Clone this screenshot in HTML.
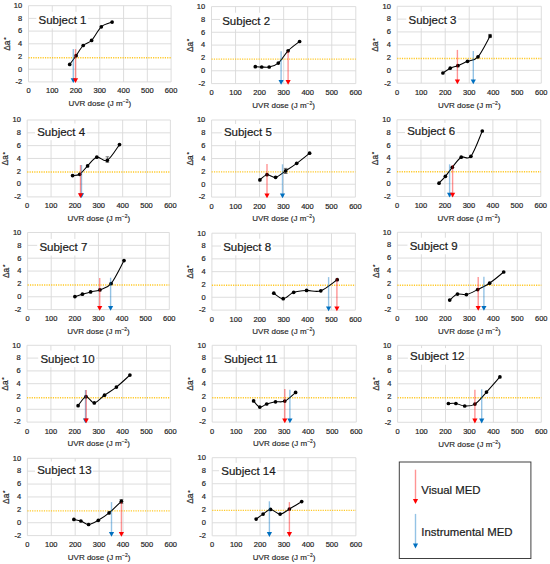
<!DOCTYPE html>
<html><head><meta charset="utf-8"><title>Subjects MED</title>
<style>
html,body{margin:0;padding:0;background:#fff;}
body{width:550px;height:564px;overflow:hidden;}
svg{display:block;font-family:"Liberation Sans",sans-serif;}
</style></head>
<body>
<svg width="550" height="564" viewBox="0 0 550 564">
<rect width="550" height="564" fill="#fff"/>
<g stroke="#d9d9d9" stroke-width="0.9"><line x1="28.5" y1="5.7" x2="28.5" y2="81.9"/><line x1="52.27" y1="5.7" x2="52.27" y2="81.9"/><line x1="76.03" y1="5.7" x2="76.03" y2="81.9"/><line x1="99.8" y1="5.7" x2="99.8" y2="81.9"/><line x1="123.57" y1="5.7" x2="123.57" y2="81.9"/><line x1="147.33" y1="5.7" x2="147.33" y2="81.9"/><line x1="171.1" y1="5.7" x2="171.1" y2="81.9"/><line x1="28.5" y1="5.7" x2="171.1" y2="5.7"/><line x1="28.5" y1="18.4" x2="171.1" y2="18.4"/><line x1="28.5" y1="31.1" x2="171.1" y2="31.1"/><line x1="28.5" y1="43.8" x2="171.1" y2="43.8"/><line x1="28.5" y1="69.2" x2="171.1" y2="69.2"/><line x1="28.5" y1="81.9" x2="171.1" y2="81.9"/></g>
<line x1="28.5" y1="57.8" x2="171.1" y2="57.8" stroke="#ffc000" stroke-width="1.4" stroke-opacity="0.85" stroke-dasharray="1.2 1.15"/>
<g font-size="7.5" fill="#262626" stroke="#262626" stroke-width="0.2"><text x="22.2" y="8" text-anchor="end">10</text><text x="22.2" y="20.7" text-anchor="end">8</text><text x="22.2" y="33.4" text-anchor="end">6</text><text x="22.2" y="46.1" text-anchor="end">4</text><text x="22.2" y="58.8" text-anchor="end">2</text><text x="22.2" y="71.5" text-anchor="end">0</text><text x="22.2" y="84.2" text-anchor="end">-2</text><text x="28.5" y="93.4" text-anchor="middle">0</text><text x="52.27" y="93.4" text-anchor="middle">100</text><text x="76.03" y="93.4" text-anchor="middle">200</text><text x="99.8" y="93.4" text-anchor="middle">300</text><text x="123.57" y="93.4" text-anchor="middle">400</text><text x="147.33" y="93.4" text-anchor="middle">500</text><text x="171.1" y="93.4" text-anchor="middle">600</text></g>
<text x="99.8" y="106.2" text-anchor="middle" font-size="8.0" fill="#262626" stroke="#262626" stroke-width="0.15">UVR dose (J m<tspan font-size="5" dy="-3">&#8722;2</tspan><tspan dy="3">)</tspan></text>
<text transform="translate(9.6,44.1) rotate(-90)" text-anchor="middle" font-size="8.4" fill="#262626" stroke="#262626" stroke-width="0.22">&#916;a<tspan font-size="6.2" dx="0.7" dy="-1.8">*</tspan></text>
<rect x="36.3" y="11.8" width="51.6" height="16.6" fill="#fff"/>
<text x="38.5" y="23.8" font-size="11.5" fill="#1a1a1a" stroke="#1a1a1a" stroke-width="0.2">Subject 1</text>
<path d="M69.7,64.4 C70.77,62.95 73.85,58.85 76.1,55.7 C78.35,52.55 80.62,48.05 83.2,45.5 C85.78,42.95 88.58,43.52 91.6,40.4 C94.62,37.28 97.88,29.85 101.3,26.8 C104.72,23.75 110.3,22.88 112.1,22.1" fill="none" stroke="#000" stroke-width="1.05"/>
<g fill="#000"><circle cx="69.7" cy="64.4" r="1.85"/><circle cx="76.1" cy="55.7" r="1.85"/><circle cx="83.2" cy="45.5" r="1.85"/><circle cx="91.6" cy="40.4" r="1.85"/><circle cx="101.3" cy="26.8" r="1.85"/><circle cx="112.1" cy="22.1" r="1.85"/></g>
<line x1="73.3" y1="49.1" x2="73.3" y2="78.7" stroke="#0070c0" stroke-width="1.4" stroke-opacity="0.42"/><path d="M70.7,78.2 L75.9,78.2 L73.3,83 Z" fill="#0070c0"/>
<line x1="75.5" y1="49.1" x2="75.5" y2="78.7" stroke="#ff0000" stroke-width="1.4" stroke-opacity="0.42"/><path d="M72.9,78.2 L78.1,78.2 L75.5,83 Z" fill="#ff0000"/>
<g stroke="#d9d9d9" stroke-width="0.9"><line x1="211.5" y1="6.6" x2="211.5" y2="83.6"/><line x1="235.55" y1="6.6" x2="235.55" y2="83.6"/><line x1="259.6" y1="6.6" x2="259.6" y2="83.6"/><line x1="283.65" y1="6.6" x2="283.65" y2="83.6"/><line x1="307.7" y1="6.6" x2="307.7" y2="83.6"/><line x1="331.75" y1="6.6" x2="331.75" y2="83.6"/><line x1="355.8" y1="6.6" x2="355.8" y2="83.6"/><line x1="211.5" y1="6.6" x2="355.8" y2="6.6"/><line x1="211.5" y1="19.43" x2="355.8" y2="19.43"/><line x1="211.5" y1="32.27" x2="355.8" y2="32.27"/><line x1="211.5" y1="45.1" x2="355.8" y2="45.1"/><line x1="211.5" y1="70.77" x2="355.8" y2="70.77"/><line x1="211.5" y1="83.6" x2="355.8" y2="83.6"/></g>
<line x1="211.5" y1="59.1" x2="355.8" y2="59.1" stroke="#ffc000" stroke-width="1.4" stroke-opacity="0.85" stroke-dasharray="1.2 1.15"/>
<g font-size="7.5" fill="#262626" stroke="#262626" stroke-width="0.2"><text x="205.2" y="8.9" text-anchor="end">10</text><text x="205.2" y="21.73" text-anchor="end">8</text><text x="205.2" y="34.57" text-anchor="end">6</text><text x="205.2" y="47.4" text-anchor="end">4</text><text x="205.2" y="60.23" text-anchor="end">2</text><text x="205.2" y="73.07" text-anchor="end">0</text><text x="205.2" y="85.9" text-anchor="end">-2</text><text x="211.5" y="95.1" text-anchor="middle">0</text><text x="235.55" y="95.1" text-anchor="middle">100</text><text x="259.6" y="95.1" text-anchor="middle">200</text><text x="283.65" y="95.1" text-anchor="middle">300</text><text x="307.7" y="95.1" text-anchor="middle">400</text><text x="331.75" y="95.1" text-anchor="middle">500</text><text x="355.8" y="95.1" text-anchor="middle">600</text></g>
<text x="283.65" y="107.9" text-anchor="middle" font-size="8.0" fill="#262626" stroke="#262626" stroke-width="0.15">UVR dose (J m<tspan font-size="5" dy="-3">&#8722;2</tspan><tspan dy="3">)</tspan></text>
<text transform="translate(192.6,45.4) rotate(-90)" text-anchor="middle" font-size="8.4" fill="#262626" stroke="#262626" stroke-width="0.22">&#916;a<tspan font-size="6.2" dx="0.7" dy="-1.8">*</tspan></text>
<rect x="220" y="12.7" width="51.6" height="16.6" fill="#fff"/>
<text x="222.2" y="24.7" font-size="11.5" fill="#1a1a1a" stroke="#1a1a1a" stroke-width="0.2">Subject 2</text>
<path d="M255.3,66.7 C256.37,66.75 259.38,66.95 261.7,67 C264.02,67.05 266.43,67.65 269.2,67 C271.97,66.35 275.15,65.8 278.3,63.1 C281.45,60.4 284.55,54.4 288.1,50.8 C291.65,47.2 297.68,43.05 299.6,41.5" fill="none" stroke="#000" stroke-width="1.05"/>
<g fill="#000"><circle cx="255.3" cy="66.7" r="1.85"/><circle cx="261.7" cy="67" r="1.85"/><circle cx="269.2" cy="67" r="1.85"/><circle cx="278.3" cy="63.1" r="1.85"/><circle cx="288.1" cy="50.8" r="1.85"/><circle cx="299.6" cy="41.5" r="1.85"/></g>
<line x1="281.1" y1="51.2" x2="281.1" y2="80.4" stroke="#0070c0" stroke-width="1.4" stroke-opacity="0.42"/><path d="M278.5,79.9 L283.7,79.9 L281.1,84.7 Z" fill="#0070c0"/>
<line x1="288.1" y1="51.2" x2="288.1" y2="80.4" stroke="#ff0000" stroke-width="1.4" stroke-opacity="0.42"/><path d="M285.5,79.9 L290.7,79.9 L288.1,84.7 Z" fill="#ff0000"/>
<g stroke="#d9d9d9" stroke-width="0.9"><line x1="397.2" y1="6.3" x2="397.2" y2="83.2"/><line x1="421.22" y1="6.3" x2="421.22" y2="83.2"/><line x1="445.23" y1="6.3" x2="445.23" y2="83.2"/><line x1="469.25" y1="6.3" x2="469.25" y2="83.2"/><line x1="493.27" y1="6.3" x2="493.27" y2="83.2"/><line x1="517.28" y1="6.3" x2="517.28" y2="83.2"/><line x1="541.3" y1="6.3" x2="541.3" y2="83.2"/><line x1="397.2" y1="6.3" x2="541.3" y2="6.3"/><line x1="397.2" y1="19.12" x2="541.3" y2="19.12"/><line x1="397.2" y1="31.93" x2="541.3" y2="31.93"/><line x1="397.2" y1="44.75" x2="541.3" y2="44.75"/><line x1="397.2" y1="70.38" x2="541.3" y2="70.38"/><line x1="397.2" y1="83.2" x2="541.3" y2="83.2"/></g>
<line x1="397.2" y1="58.5" x2="541.3" y2="58.5" stroke="#ffc000" stroke-width="1.4" stroke-opacity="0.85" stroke-dasharray="1.2 1.15"/>
<g font-size="7.5" fill="#262626" stroke="#262626" stroke-width="0.2"><text x="390.9" y="8.6" text-anchor="end">10</text><text x="390.9" y="21.42" text-anchor="end">8</text><text x="390.9" y="34.23" text-anchor="end">6</text><text x="390.9" y="47.05" text-anchor="end">4</text><text x="390.9" y="59.87" text-anchor="end">2</text><text x="390.9" y="72.68" text-anchor="end">0</text><text x="390.9" y="85.5" text-anchor="end">-2</text><text x="397.2" y="94.7" text-anchor="middle">0</text><text x="421.22" y="94.7" text-anchor="middle">100</text><text x="445.23" y="94.7" text-anchor="middle">200</text><text x="469.25" y="94.7" text-anchor="middle">300</text><text x="493.27" y="94.7" text-anchor="middle">400</text><text x="517.28" y="94.7" text-anchor="middle">500</text><text x="541.3" y="94.7" text-anchor="middle">600</text></g>
<text x="469.25" y="107.5" text-anchor="middle" font-size="8.0" fill="#262626" stroke="#262626" stroke-width="0.15">UVR dose (J m<tspan font-size="5" dy="-3">&#8722;2</tspan><tspan dy="3">)</tspan></text>
<text transform="translate(378.3,45.05) rotate(-90)" text-anchor="middle" font-size="8.4" fill="#262626" stroke="#262626" stroke-width="0.22">&#916;a<tspan font-size="6.2" dx="0.7" dy="-1.8">*</tspan></text>
<rect x="406.3" y="11.6" width="51.6" height="16.6" fill="#fff"/>
<text x="408.5" y="23.6" font-size="11.5" fill="#1a1a1a" stroke="#1a1a1a" stroke-width="0.2">Subject 3</text>
<g stroke="#505050" stroke-width="0.8"><line x1="490" y1="34.4" x2="490" y2="37.6"/><line x1="488.2" y1="34.4" x2="491.8" y2="34.4"/><line x1="488.2" y1="37.6" x2="491.8" y2="37.6"/></g>
<path d="M442.9,73 C444.12,72.2 447.7,69.42 450.2,68.2 C452.7,66.98 455.02,66.85 457.9,65.7 C460.78,64.55 464.15,62.78 467.5,61.3 C470.85,59.82 474.23,61.02 478,56.8 C481.77,52.58 488.08,39.47 490.1,36" fill="none" stroke="#000" stroke-width="1.05"/>
<g fill="#000"><circle cx="442.9" cy="73" r="1.85"/><circle cx="450.2" cy="68.2" r="1.85"/><circle cx="457.9" cy="65.7" r="1.85"/><circle cx="467.5" cy="61.3" r="1.85"/><circle cx="478" cy="56.8" r="1.85"/><circle cx="490.1" cy="36" r="1.85"/></g>
<line x1="473.3" y1="51" x2="473.3" y2="80" stroke="#0070c0" stroke-width="1.4" stroke-opacity="0.42"/><path d="M470.7,79.5 L475.9,79.5 L473.3,84.3 Z" fill="#0070c0"/>
<line x1="457.4" y1="49.9" x2="457.4" y2="80" stroke="#ff0000" stroke-width="1.4" stroke-opacity="0.42"/><path d="M454.8,79.5 L460,79.5 L457.4,84.3 Z" fill="#ff0000"/>
<g stroke="#d9d9d9" stroke-width="0.9"><line x1="27.2" y1="120" x2="27.2" y2="196.9"/><line x1="51.07" y1="120" x2="51.07" y2="196.9"/><line x1="74.93" y1="120" x2="74.93" y2="196.9"/><line x1="98.8" y1="120" x2="98.8" y2="196.9"/><line x1="122.67" y1="120" x2="122.67" y2="196.9"/><line x1="146.53" y1="120" x2="146.53" y2="196.9"/><line x1="170.4" y1="120" x2="170.4" y2="196.9"/><line x1="27.2" y1="120" x2="170.4" y2="120"/><line x1="27.2" y1="132.82" x2="170.4" y2="132.82"/><line x1="27.2" y1="145.63" x2="170.4" y2="145.63"/><line x1="27.2" y1="158.45" x2="170.4" y2="158.45"/><line x1="27.2" y1="184.08" x2="170.4" y2="184.08"/><line x1="27.2" y1="196.9" x2="170.4" y2="196.9"/></g>
<line x1="27.2" y1="172" x2="170.4" y2="172" stroke="#ffc000" stroke-width="1.4" stroke-opacity="0.85" stroke-dasharray="1.2 1.15"/>
<g font-size="7.5" fill="#262626" stroke="#262626" stroke-width="0.2"><text x="20.9" y="122.3" text-anchor="end">10</text><text x="20.9" y="135.12" text-anchor="end">8</text><text x="20.9" y="147.93" text-anchor="end">6</text><text x="20.9" y="160.75" text-anchor="end">4</text><text x="20.9" y="173.57" text-anchor="end">2</text><text x="20.9" y="186.38" text-anchor="end">0</text><text x="20.9" y="199.2" text-anchor="end">-2</text><text x="27.2" y="208.4" text-anchor="middle">0</text><text x="51.07" y="208.4" text-anchor="middle">100</text><text x="74.93" y="208.4" text-anchor="middle">200</text><text x="98.8" y="208.4" text-anchor="middle">300</text><text x="122.67" y="208.4" text-anchor="middle">400</text><text x="146.53" y="208.4" text-anchor="middle">500</text><text x="170.4" y="208.4" text-anchor="middle">600</text></g>
<text x="98.8" y="221.2" text-anchor="middle" font-size="8.0" fill="#262626" stroke="#262626" stroke-width="0.15">UVR dose (J m<tspan font-size="5" dy="-3">&#8722;2</tspan><tspan dy="3">)</tspan></text>
<text transform="translate(8.3,158.75) rotate(-90)" text-anchor="middle" font-size="8.4" fill="#262626" stroke="#262626" stroke-width="0.22">&#916;a<tspan font-size="6.2" dx="0.7" dy="-1.8">*</tspan></text>
<rect x="35" y="123.6" width="51.6" height="16.6" fill="#fff"/>
<text x="37.2" y="135.6" font-size="11.5" fill="#1a1a1a" stroke="#1a1a1a" stroke-width="0.2">Subject 4</text>
<g stroke="#505050" stroke-width="0.8"><line x1="107.4" y1="156.8" x2="107.4" y2="162.3"/><line x1="105.6" y1="156.8" x2="109.2" y2="156.8"/><line x1="105.6" y1="162.3" x2="109.2" y2="162.3"/></g>
<path d="M72.6,175.6 C73.78,175.38 77.2,175.92 79.7,174.3 C82.2,172.68 84.75,168.75 87.6,165.9 C90.45,163.05 93.52,158.13 96.8,157.2 C100.08,156.27 103.52,162.4 107.3,160.3 C111.08,158.2 117.47,147.22 119.5,144.6" fill="none" stroke="#000" stroke-width="1.05"/>
<g fill="#000"><circle cx="72.6" cy="175.6" r="1.85"/><circle cx="79.7" cy="174.3" r="1.85"/><circle cx="87.6" cy="165.9" r="1.85"/><circle cx="96.8" cy="157.2" r="1.85"/><circle cx="107.3" cy="160.3" r="1.85"/><circle cx="119.5" cy="144.6" r="1.85"/></g>
<line x1="81.5" y1="165" x2="81.5" y2="193.7" stroke="#0070c0" stroke-width="1.4" stroke-opacity="0.42"/><path d="M78.9,193.2 L84.1,193.2 L81.5,198 Z" fill="#0070c0"/>
<line x1="80.5" y1="165" x2="80.5" y2="193.7" stroke="#ff0000" stroke-width="1.4" stroke-opacity="0.42"/><path d="M77.9,193.2 L83.1,193.2 L80.5,198 Z" fill="#ff0000"/>
<g stroke="#d9d9d9" stroke-width="0.9"><line x1="211.6" y1="120" x2="211.6" y2="197.1"/><line x1="235.57" y1="120" x2="235.57" y2="197.1"/><line x1="259.53" y1="120" x2="259.53" y2="197.1"/><line x1="283.5" y1="120" x2="283.5" y2="197.1"/><line x1="307.47" y1="120" x2="307.47" y2="197.1"/><line x1="331.43" y1="120" x2="331.43" y2="197.1"/><line x1="355.4" y1="120" x2="355.4" y2="197.1"/><line x1="211.6" y1="120" x2="355.4" y2="120"/><line x1="211.6" y1="132.85" x2="355.4" y2="132.85"/><line x1="211.6" y1="145.7" x2="355.4" y2="145.7"/><line x1="211.6" y1="158.55" x2="355.4" y2="158.55"/><line x1="211.6" y1="184.25" x2="355.4" y2="184.25"/><line x1="211.6" y1="197.1" x2="355.4" y2="197.1"/></g>
<line x1="211.6" y1="171.9" x2="355.4" y2="171.9" stroke="#ffc000" stroke-width="1.4" stroke-opacity="0.85" stroke-dasharray="1.2 1.15"/>
<g font-size="7.5" fill="#262626" stroke="#262626" stroke-width="0.2"><text x="205.3" y="122.3" text-anchor="end">10</text><text x="205.3" y="135.15" text-anchor="end">8</text><text x="205.3" y="148" text-anchor="end">6</text><text x="205.3" y="160.85" text-anchor="end">4</text><text x="205.3" y="173.7" text-anchor="end">2</text><text x="205.3" y="186.55" text-anchor="end">0</text><text x="205.3" y="199.4" text-anchor="end">-2</text><text x="211.6" y="208.6" text-anchor="middle">0</text><text x="235.57" y="208.6" text-anchor="middle">100</text><text x="259.53" y="208.6" text-anchor="middle">200</text><text x="283.5" y="208.6" text-anchor="middle">300</text><text x="307.47" y="208.6" text-anchor="middle">400</text><text x="331.43" y="208.6" text-anchor="middle">500</text><text x="355.4" y="208.6" text-anchor="middle">600</text></g>
<text x="283.5" y="221.4" text-anchor="middle" font-size="8.0" fill="#262626" stroke="#262626" stroke-width="0.15">UVR dose (J m<tspan font-size="5" dy="-3">&#8722;2</tspan><tspan dy="3">)</tspan></text>
<text transform="translate(192.7,158.85) rotate(-90)" text-anchor="middle" font-size="8.4" fill="#262626" stroke="#262626" stroke-width="0.22">&#916;a<tspan font-size="6.2" dx="0.7" dy="-1.8">*</tspan></text>
<rect x="221.7" y="124" width="51.6" height="16.6" fill="#fff"/>
<text x="223.9" y="136" font-size="11.5" fill="#1a1a1a" stroke="#1a1a1a" stroke-width="0.2">Subject 5</text>
<g stroke="#505050" stroke-width="0.8"><line x1="285.7" y1="168.4" x2="285.7" y2="173.5"/><line x1="283.9" y1="168.4" x2="287.5" y2="168.4"/><line x1="283.9" y1="173.5" x2="287.5" y2="173.5"/></g>
<path d="M259.9,179.9 C261.08,179.03 264.38,175.13 267,174.7 C269.62,174.27 272.5,177.93 275.6,177.3 C278.7,176.67 282.08,173.23 285.6,170.9 C289.12,168.57 292.7,166.25 296.7,163.3 C300.7,160.35 307.45,154.88 309.6,153.2" fill="none" stroke="#000" stroke-width="1.05"/>
<g fill="#000"><circle cx="259.9" cy="179.9" r="1.85"/><circle cx="267" cy="174.7" r="1.85"/><circle cx="275.6" cy="177.3" r="1.85"/><circle cx="285.6" cy="170.9" r="1.85"/><circle cx="296.7" cy="163.3" r="1.85"/><circle cx="309.6" cy="153.2" r="1.85"/></g>
<line x1="282.5" y1="164.3" x2="282.5" y2="193.9" stroke="#0070c0" stroke-width="1.4" stroke-opacity="0.42"/><path d="M279.9,193.4 L285.1,193.4 L282.5,198.2 Z" fill="#0070c0"/>
<line x1="267" y1="163.9" x2="267" y2="193.9" stroke="#ff0000" stroke-width="1.4" stroke-opacity="0.42"/><path d="M264.4,193.4 L269.6,193.4 L267,198.2 Z" fill="#ff0000"/>
<g stroke="#d9d9d9" stroke-width="0.9"><line x1="397" y1="119.8" x2="397" y2="196.5"/><line x1="420.97" y1="119.8" x2="420.97" y2="196.5"/><line x1="444.93" y1="119.8" x2="444.93" y2="196.5"/><line x1="468.9" y1="119.8" x2="468.9" y2="196.5"/><line x1="492.87" y1="119.8" x2="492.87" y2="196.5"/><line x1="516.83" y1="119.8" x2="516.83" y2="196.5"/><line x1="540.8" y1="119.8" x2="540.8" y2="196.5"/><line x1="397" y1="119.8" x2="540.8" y2="119.8"/><line x1="397" y1="132.58" x2="540.8" y2="132.58"/><line x1="397" y1="145.37" x2="540.8" y2="145.37"/><line x1="397" y1="158.15" x2="540.8" y2="158.15"/><line x1="397" y1="183.72" x2="540.8" y2="183.72"/><line x1="397" y1="196.5" x2="540.8" y2="196.5"/></g>
<line x1="397" y1="171.7" x2="540.8" y2="171.7" stroke="#ffc000" stroke-width="1.4" stroke-opacity="0.85" stroke-dasharray="1.2 1.15"/>
<g font-size="7.5" fill="#262626" stroke="#262626" stroke-width="0.2"><text x="390.7" y="122.1" text-anchor="end">10</text><text x="390.7" y="134.88" text-anchor="end">8</text><text x="390.7" y="147.67" text-anchor="end">6</text><text x="390.7" y="160.45" text-anchor="end">4</text><text x="390.7" y="173.23" text-anchor="end">2</text><text x="390.7" y="186.02" text-anchor="end">0</text><text x="390.7" y="198.8" text-anchor="end">-2</text><text x="397" y="208" text-anchor="middle">0</text><text x="420.97" y="208" text-anchor="middle">100</text><text x="444.93" y="208" text-anchor="middle">200</text><text x="468.9" y="208" text-anchor="middle">300</text><text x="492.87" y="208" text-anchor="middle">400</text><text x="516.83" y="208" text-anchor="middle">500</text><text x="540.8" y="208" text-anchor="middle">600</text></g>
<text x="468.9" y="220.8" text-anchor="middle" font-size="8.0" fill="#262626" stroke="#262626" stroke-width="0.15">UVR dose (J m<tspan font-size="5" dy="-3">&#8722;2</tspan><tspan dy="3">)</tspan></text>
<text transform="translate(378.1,158.45) rotate(-90)" text-anchor="middle" font-size="8.4" fill="#262626" stroke="#262626" stroke-width="0.22">&#916;a<tspan font-size="6.2" dx="0.7" dy="-1.8">*</tspan></text>
<rect x="405" y="123" width="51.6" height="16.6" fill="#fff"/>
<text x="407.2" y="135" font-size="11.5" fill="#1a1a1a" stroke="#1a1a1a" stroke-width="0.2">Subject 6</text>
<path d="M439,183.2 C440.07,182.05 443.18,178.95 445.4,176.3 C447.62,173.65 449.67,170.48 452.3,167.3 C454.93,164.12 458.1,159.03 461.2,157.2 C464.3,155.37 467.38,160.67 470.9,156.3 C474.42,151.93 480.4,135.22 482.3,131" fill="none" stroke="#000" stroke-width="1.05"/>
<g fill="#000"><circle cx="439" cy="183.2" r="1.85"/><circle cx="445.4" cy="176.3" r="1.85"/><circle cx="452.3" cy="167.3" r="1.85"/><circle cx="461.2" cy="157.2" r="1.85"/><circle cx="470.9" cy="156.3" r="1.85"/><circle cx="482.3" cy="131" r="1.85"/></g>
<line x1="449.6" y1="164.3" x2="449.6" y2="193.3" stroke="#0070c0" stroke-width="1.4" stroke-opacity="0.42"/><path d="M447,192.8 L452.2,192.8 L449.6,197.6 Z" fill="#0070c0"/>
<line x1="452.6" y1="165" x2="452.6" y2="193.3" stroke="#ff0000" stroke-width="1.4" stroke-opacity="0.42"/><path d="M450,192.8 L455.2,192.8 L452.6,197.6 Z" fill="#ff0000"/>
<g stroke="#d9d9d9" stroke-width="0.9"><line x1="27.6" y1="232.5" x2="27.6" y2="309.6"/><line x1="51.22" y1="232.5" x2="51.22" y2="309.6"/><line x1="74.83" y1="232.5" x2="74.83" y2="309.6"/><line x1="98.45" y1="232.5" x2="98.45" y2="309.6"/><line x1="122.07" y1="232.5" x2="122.07" y2="309.6"/><line x1="145.68" y1="232.5" x2="145.68" y2="309.6"/><line x1="169.3" y1="232.5" x2="169.3" y2="309.6"/><line x1="27.6" y1="232.5" x2="169.3" y2="232.5"/><line x1="27.6" y1="245.35" x2="169.3" y2="245.35"/><line x1="27.6" y1="258.2" x2="169.3" y2="258.2"/><line x1="27.6" y1="271.05" x2="169.3" y2="271.05"/><line x1="27.6" y1="296.75" x2="169.3" y2="296.75"/><line x1="27.6" y1="309.6" x2="169.3" y2="309.6"/></g>
<line x1="27.6" y1="285" x2="169.3" y2="285" stroke="#ffc000" stroke-width="1.4" stroke-opacity="0.85" stroke-dasharray="1.2 1.15"/>
<g font-size="7.5" fill="#262626" stroke="#262626" stroke-width="0.2"><text x="21.3" y="234.8" text-anchor="end">10</text><text x="21.3" y="247.65" text-anchor="end">8</text><text x="21.3" y="260.5" text-anchor="end">6</text><text x="21.3" y="273.35" text-anchor="end">4</text><text x="21.3" y="286.2" text-anchor="end">2</text><text x="21.3" y="299.05" text-anchor="end">0</text><text x="21.3" y="311.9" text-anchor="end">-2</text><text x="27.6" y="321.1" text-anchor="middle">0</text><text x="51.22" y="321.1" text-anchor="middle">100</text><text x="74.83" y="321.1" text-anchor="middle">200</text><text x="98.45" y="321.1" text-anchor="middle">300</text><text x="122.07" y="321.1" text-anchor="middle">400</text><text x="145.68" y="321.1" text-anchor="middle">500</text><text x="169.3" y="321.1" text-anchor="middle">600</text></g>
<text x="98.45" y="333.9" text-anchor="middle" font-size="8.0" fill="#262626" stroke="#262626" stroke-width="0.15">UVR dose (J m<tspan font-size="5" dy="-3">&#8722;2</tspan><tspan dy="3">)</tspan></text>
<text transform="translate(8.7,271.35) rotate(-90)" text-anchor="middle" font-size="8.4" fill="#262626" stroke="#262626" stroke-width="0.22">&#916;a<tspan font-size="6.2" dx="0.7" dy="-1.8">*</tspan></text>
<rect x="37.2" y="238.9" width="51.6" height="16.6" fill="#fff"/>
<text x="39.4" y="250.9" font-size="11.5" fill="#1a1a1a" stroke="#1a1a1a" stroke-width="0.2">Subject 7</text>
<path d="M74.9,296.6 C76.15,296.2 79.78,294.98 82.4,294.2 C85.02,293.42 87.68,292.62 90.6,291.9 C93.52,291.18 96.48,291.28 99.9,289.9 C103.32,288.52 107.08,288.48 111.1,283.6 C115.12,278.72 121.85,264.43 124,260.6" fill="none" stroke="#000" stroke-width="1.05"/>
<g fill="#000"><circle cx="74.9" cy="296.6" r="1.85"/><circle cx="82.4" cy="294.2" r="1.85"/><circle cx="90.6" cy="291.9" r="1.85"/><circle cx="99.9" cy="289.9" r="1.85"/><circle cx="111.1" cy="283.6" r="1.85"/><circle cx="124" cy="260.6" r="1.85"/></g>
<line x1="110.6" y1="277.7" x2="110.6" y2="306.4" stroke="#0070c0" stroke-width="1.4" stroke-opacity="0.42"/><path d="M108,305.9 L113.2,305.9 L110.6,310.7 Z" fill="#0070c0"/>
<line x1="99.7" y1="278" x2="99.7" y2="306.4" stroke="#ff0000" stroke-width="1.4" stroke-opacity="0.42"/><path d="M97.1,305.9 L102.3,305.9 L99.7,310.7 Z" fill="#ff0000"/>
<g stroke="#d9d9d9" stroke-width="0.9"><line x1="211.9" y1="233.2" x2="211.9" y2="310.1"/><line x1="235.82" y1="233.2" x2="235.82" y2="310.1"/><line x1="259.73" y1="233.2" x2="259.73" y2="310.1"/><line x1="283.65" y1="233.2" x2="283.65" y2="310.1"/><line x1="307.57" y1="233.2" x2="307.57" y2="310.1"/><line x1="331.48" y1="233.2" x2="331.48" y2="310.1"/><line x1="355.4" y1="233.2" x2="355.4" y2="310.1"/><line x1="211.9" y1="233.2" x2="355.4" y2="233.2"/><line x1="211.9" y1="246.02" x2="355.4" y2="246.02"/><line x1="211.9" y1="258.83" x2="355.4" y2="258.83"/><line x1="211.9" y1="271.65" x2="355.4" y2="271.65"/><line x1="211.9" y1="297.28" x2="355.4" y2="297.28"/><line x1="211.9" y1="310.1" x2="355.4" y2="310.1"/></g>
<line x1="211.9" y1="285.2" x2="355.4" y2="285.2" stroke="#ffc000" stroke-width="1.4" stroke-opacity="0.85" stroke-dasharray="1.2 1.15"/>
<g font-size="7.5" fill="#262626" stroke="#262626" stroke-width="0.2"><text x="205.6" y="235.5" text-anchor="end">10</text><text x="205.6" y="248.32" text-anchor="end">8</text><text x="205.6" y="261.13" text-anchor="end">6</text><text x="205.6" y="273.95" text-anchor="end">4</text><text x="205.6" y="286.77" text-anchor="end">2</text><text x="205.6" y="299.58" text-anchor="end">0</text><text x="205.6" y="312.4" text-anchor="end">-2</text><text x="211.9" y="321.6" text-anchor="middle">0</text><text x="235.82" y="321.6" text-anchor="middle">100</text><text x="259.73" y="321.6" text-anchor="middle">200</text><text x="283.65" y="321.6" text-anchor="middle">300</text><text x="307.57" y="321.6" text-anchor="middle">400</text><text x="331.48" y="321.6" text-anchor="middle">500</text><text x="355.4" y="321.6" text-anchor="middle">600</text></g>
<text x="283.65" y="334.4" text-anchor="middle" font-size="8.0" fill="#262626" stroke="#262626" stroke-width="0.15">UVR dose (J m<tspan font-size="5" dy="-3">&#8722;2</tspan><tspan dy="3">)</tspan></text>
<text transform="translate(193,271.95) rotate(-90)" text-anchor="middle" font-size="8.4" fill="#262626" stroke="#262626" stroke-width="0.22">&#916;a<tspan font-size="6.2" dx="0.7" dy="-1.8">*</tspan></text>
<rect x="221" y="238.7" width="51.6" height="16.6" fill="#fff"/>
<text x="223.2" y="250.7" font-size="11.5" fill="#1a1a1a" stroke="#1a1a1a" stroke-width="0.2">Subject 8</text>
<path d="M273.8,293.2 C275.37,294.12 279.88,298.85 283.2,298.7 C286.52,298.55 289.8,293.68 293.7,292.3 C297.6,290.92 302.08,290.65 306.6,290.4 C311.12,290.15 315.7,292.58 320.8,290.8 C325.9,289.02 334.47,281.55 337.2,279.7" fill="none" stroke="#000" stroke-width="1.05"/>
<g fill="#000"><circle cx="273.8" cy="293.2" r="1.85"/><circle cx="283.2" cy="298.7" r="1.85"/><circle cx="293.7" cy="292.3" r="1.85"/><circle cx="306.6" cy="290.4" r="1.85"/><circle cx="320.8" cy="290.8" r="1.85"/><circle cx="337.2" cy="279.7" r="1.85"/></g>
<line x1="328.6" y1="277.1" x2="328.6" y2="306.9" stroke="#0070c0" stroke-width="1.4" stroke-opacity="0.42"/><path d="M326,306.4 L331.2,306.4 L328.6,311.2 Z" fill="#0070c0"/>
<line x1="336.9" y1="278" x2="336.9" y2="306.9" stroke="#ff0000" stroke-width="1.4" stroke-opacity="0.42"/><path d="M334.3,306.4 L339.5,306.4 L336.9,311.2 Z" fill="#ff0000"/>
<g stroke="#d9d9d9" stroke-width="0.9"><line x1="397.4" y1="232.3" x2="397.4" y2="309.6"/><line x1="421.38" y1="232.3" x2="421.38" y2="309.6"/><line x1="445.37" y1="232.3" x2="445.37" y2="309.6"/><line x1="469.35" y1="232.3" x2="469.35" y2="309.6"/><line x1="493.33" y1="232.3" x2="493.33" y2="309.6"/><line x1="517.32" y1="232.3" x2="517.32" y2="309.6"/><line x1="541.3" y1="232.3" x2="541.3" y2="309.6"/><line x1="397.4" y1="232.3" x2="541.3" y2="232.3"/><line x1="397.4" y1="245.18" x2="541.3" y2="245.18"/><line x1="397.4" y1="258.07" x2="541.3" y2="258.07"/><line x1="397.4" y1="270.95" x2="541.3" y2="270.95"/><line x1="397.4" y1="296.72" x2="541.3" y2="296.72"/><line x1="397.4" y1="309.6" x2="541.3" y2="309.6"/></g>
<line x1="397.4" y1="285.2" x2="541.3" y2="285.2" stroke="#ffc000" stroke-width="1.4" stroke-opacity="0.85" stroke-dasharray="1.2 1.15"/>
<g font-size="7.5" fill="#262626" stroke="#262626" stroke-width="0.2"><text x="391.1" y="234.6" text-anchor="end">10</text><text x="391.1" y="247.48" text-anchor="end">8</text><text x="391.1" y="260.37" text-anchor="end">6</text><text x="391.1" y="273.25" text-anchor="end">4</text><text x="391.1" y="286.13" text-anchor="end">2</text><text x="391.1" y="299.02" text-anchor="end">0</text><text x="391.1" y="311.9" text-anchor="end">-2</text><text x="397.4" y="321.1" text-anchor="middle">0</text><text x="421.38" y="321.1" text-anchor="middle">100</text><text x="445.37" y="321.1" text-anchor="middle">200</text><text x="469.35" y="321.1" text-anchor="middle">300</text><text x="493.33" y="321.1" text-anchor="middle">400</text><text x="517.32" y="321.1" text-anchor="middle">500</text><text x="541.3" y="321.1" text-anchor="middle">600</text></g>
<text x="469.35" y="333.9" text-anchor="middle" font-size="8.0" fill="#262626" stroke="#262626" stroke-width="0.15">UVR dose (J m<tspan font-size="5" dy="-3">&#8722;2</tspan><tspan dy="3">)</tspan></text>
<text transform="translate(378.5,271.25) rotate(-90)" text-anchor="middle" font-size="8.4" fill="#262626" stroke="#262626" stroke-width="0.22">&#916;a<tspan font-size="6.2" dx="0.7" dy="-1.8">*</tspan></text>
<rect x="407.5" y="237.7" width="51.6" height="16.6" fill="#fff"/>
<text x="409.7" y="249.7" font-size="11.5" fill="#1a1a1a" stroke="#1a1a1a" stroke-width="0.2">Subject 9</text>
<path d="M449.7,300.1 C451,299.1 454.72,295.02 457.5,294.1 C460.28,293.18 463.03,295.35 466.4,294.6 C469.77,293.85 473.83,291.5 477.7,289.6 C481.57,287.7 485.27,286.13 489.6,283.2 C493.93,280.27 501.35,273.87 503.7,272" fill="none" stroke="#000" stroke-width="1.05"/>
<g fill="#000"><circle cx="449.7" cy="300.1" r="1.85"/><circle cx="457.5" cy="294.1" r="1.85"/><circle cx="466.4" cy="294.6" r="1.85"/><circle cx="477.7" cy="289.6" r="1.85"/><circle cx="489.6" cy="283.2" r="1.85"/><circle cx="503.7" cy="272" r="1.85"/></g>
<line x1="483.9" y1="276.8" x2="483.9" y2="306.4" stroke="#0070c0" stroke-width="1.4" stroke-opacity="0.42"/><path d="M481.3,305.9 L486.5,305.9 L483.9,310.7 Z" fill="#0070c0"/>
<line x1="478.2" y1="277.1" x2="478.2" y2="306.4" stroke="#ff0000" stroke-width="1.4" stroke-opacity="0.42"/><path d="M475.6,305.9 L480.8,305.9 L478.2,310.7 Z" fill="#ff0000"/>
<g stroke="#d9d9d9" stroke-width="0.9"><line x1="27" y1="345.3" x2="27" y2="422.1"/><line x1="50.9" y1="345.3" x2="50.9" y2="422.1"/><line x1="74.8" y1="345.3" x2="74.8" y2="422.1"/><line x1="98.7" y1="345.3" x2="98.7" y2="422.1"/><line x1="122.6" y1="345.3" x2="122.6" y2="422.1"/><line x1="146.5" y1="345.3" x2="146.5" y2="422.1"/><line x1="170.4" y1="345.3" x2="170.4" y2="422.1"/><line x1="27" y1="345.3" x2="170.4" y2="345.3"/><line x1="27" y1="358.1" x2="170.4" y2="358.1"/><line x1="27" y1="370.9" x2="170.4" y2="370.9"/><line x1="27" y1="383.7" x2="170.4" y2="383.7"/><line x1="27" y1="409.3" x2="170.4" y2="409.3"/><line x1="27" y1="422.1" x2="170.4" y2="422.1"/></g>
<line x1="27" y1="397.7" x2="170.4" y2="397.7" stroke="#ffc000" stroke-width="1.4" stroke-opacity="0.85" stroke-dasharray="1.2 1.15"/>
<g font-size="7.5" fill="#262626" stroke="#262626" stroke-width="0.2"><text x="20.7" y="347.6" text-anchor="end">10</text><text x="20.7" y="360.4" text-anchor="end">8</text><text x="20.7" y="373.2" text-anchor="end">6</text><text x="20.7" y="386" text-anchor="end">4</text><text x="20.7" y="398.8" text-anchor="end">2</text><text x="20.7" y="411.6" text-anchor="end">0</text><text x="20.7" y="424.4" text-anchor="end">-2</text><text x="27" y="433.6" text-anchor="middle">0</text><text x="50.9" y="433.6" text-anchor="middle">100</text><text x="74.8" y="433.6" text-anchor="middle">200</text><text x="98.7" y="433.6" text-anchor="middle">300</text><text x="122.6" y="433.6" text-anchor="middle">400</text><text x="146.5" y="433.6" text-anchor="middle">500</text><text x="170.4" y="433.6" text-anchor="middle">600</text></g>
<text x="98.7" y="446.4" text-anchor="middle" font-size="8.0" fill="#262626" stroke="#262626" stroke-width="0.15">UVR dose (J m<tspan font-size="5" dy="-3">&#8722;2</tspan><tspan dy="3">)</tspan></text>
<text transform="translate(8.1,384) rotate(-90)" text-anchor="middle" font-size="8.4" fill="#262626" stroke="#262626" stroke-width="0.22">&#916;a<tspan font-size="6.2" dx="0.7" dy="-1.8">*</tspan></text>
<rect x="38.2" y="350.5" width="57.8" height="16.6" fill="#fff"/>
<text x="40.4" y="362.5" font-size="11.5" fill="#1a1a1a" stroke="#1a1a1a" stroke-width="0.2">Subject 10</text>
<path d="M78.1,405.7 C79.42,404.2 83.3,397.17 86,396.7 C88.7,396.23 91.22,403.15 94.3,402.9 C97.38,402.65 100.82,397.83 104.5,395.2 C108.18,392.57 112.17,390.45 116.4,387.1 C120.63,383.75 127.65,377.1 129.9,375.1" fill="none" stroke="#000" stroke-width="1.05"/>
<g fill="#000"><circle cx="78.1" cy="405.7" r="1.85"/><circle cx="86" cy="396.7" r="1.85"/><circle cx="94.3" cy="402.9" r="1.85"/><circle cx="104.5" cy="395.2" r="1.85"/><circle cx="116.4" cy="387.1" r="1.85"/><circle cx="129.9" cy="375.1" r="1.85"/></g>
<line x1="85.5" y1="390" x2="85.5" y2="418.9" stroke="#0070c0" stroke-width="1.4" stroke-opacity="0.42"/><path d="M82.9,418.4 L88.1,418.4 L85.5,423.2 Z" fill="#0070c0"/>
<line x1="86.2" y1="390" x2="86.2" y2="418.9" stroke="#ff0000" stroke-width="1.4" stroke-opacity="0.42"/><path d="M83.6,418.4 L88.8,418.4 L86.2,423.2 Z" fill="#ff0000"/>
<g stroke="#d9d9d9" stroke-width="0.9"><line x1="212.2" y1="345.3" x2="212.2" y2="422.1"/><line x1="236.22" y1="345.3" x2="236.22" y2="422.1"/><line x1="260.23" y1="345.3" x2="260.23" y2="422.1"/><line x1="284.25" y1="345.3" x2="284.25" y2="422.1"/><line x1="308.27" y1="345.3" x2="308.27" y2="422.1"/><line x1="332.28" y1="345.3" x2="332.28" y2="422.1"/><line x1="356.3" y1="345.3" x2="356.3" y2="422.1"/><line x1="212.2" y1="345.3" x2="356.3" y2="345.3"/><line x1="212.2" y1="358.1" x2="356.3" y2="358.1"/><line x1="212.2" y1="370.9" x2="356.3" y2="370.9"/><line x1="212.2" y1="383.7" x2="356.3" y2="383.7"/><line x1="212.2" y1="409.3" x2="356.3" y2="409.3"/><line x1="212.2" y1="422.1" x2="356.3" y2="422.1"/></g>
<line x1="212.2" y1="397.7" x2="356.3" y2="397.7" stroke="#ffc000" stroke-width="1.4" stroke-opacity="0.85" stroke-dasharray="1.2 1.15"/>
<g font-size="7.5" fill="#262626" stroke="#262626" stroke-width="0.2"><text x="205.9" y="347.6" text-anchor="end">10</text><text x="205.9" y="360.4" text-anchor="end">8</text><text x="205.9" y="373.2" text-anchor="end">6</text><text x="205.9" y="386" text-anchor="end">4</text><text x="205.9" y="398.8" text-anchor="end">2</text><text x="205.9" y="411.6" text-anchor="end">0</text><text x="205.9" y="424.4" text-anchor="end">-2</text><text x="212.2" y="433.6" text-anchor="middle">0</text><text x="236.22" y="433.6" text-anchor="middle">100</text><text x="260.23" y="433.6" text-anchor="middle">200</text><text x="284.25" y="433.6" text-anchor="middle">300</text><text x="308.27" y="433.6" text-anchor="middle">400</text><text x="332.28" y="433.6" text-anchor="middle">500</text><text x="356.3" y="433.6" text-anchor="middle">600</text></g>
<text x="284.25" y="446.4" text-anchor="middle" font-size="8.0" fill="#262626" stroke="#262626" stroke-width="0.15">UVR dose (J m<tspan font-size="5" dy="-3">&#8722;2</tspan><tspan dy="3">)</tspan></text>
<text transform="translate(193.3,384) rotate(-90)" text-anchor="middle" font-size="8.4" fill="#262626" stroke="#262626" stroke-width="0.22">&#916;a<tspan font-size="6.2" dx="0.7" dy="-1.8">*</tspan></text>
<rect x="221.7" y="350.7" width="57.8" height="16.6" fill="#fff"/>
<text x="223.9" y="362.7" font-size="11.5" fill="#1a1a1a" stroke="#1a1a1a" stroke-width="0.2">Subject 11</text>
<path d="M253.6,400.9 C254.63,401.93 257.62,406.58 259.8,407.1 C261.98,407.62 264.08,404.88 266.7,404 C269.32,403.12 272.48,402.28 275.5,401.8 C278.52,401.32 281.45,402.67 284.8,401.1 C288.15,399.53 293.8,393.85 295.6,392.4" fill="none" stroke="#000" stroke-width="1.05"/>
<g fill="#000"><circle cx="253.6" cy="400.9" r="1.85"/><circle cx="259.8" cy="407.1" r="1.85"/><circle cx="266.7" cy="404" r="1.85"/><circle cx="275.5" cy="401.8" r="1.85"/><circle cx="284.8" cy="401.1" r="1.85"/><circle cx="295.6" cy="392.4" r="1.85"/></g>
<line x1="289.9" y1="389.8" x2="289.9" y2="418.9" stroke="#0070c0" stroke-width="1.4" stroke-opacity="0.42"/><path d="M287.3,418.4 L292.5,418.4 L289.9,423.2 Z" fill="#0070c0"/>
<line x1="284.8" y1="389" x2="284.8" y2="418.9" stroke="#ff0000" stroke-width="1.4" stroke-opacity="0.42"/><path d="M282.2,418.4 L287.4,418.4 L284.8,423.2 Z" fill="#ff0000"/>
<g stroke="#d9d9d9" stroke-width="0.9"><line x1="397.6" y1="345.3" x2="397.6" y2="422.3"/><line x1="421.55" y1="345.3" x2="421.55" y2="422.3"/><line x1="445.5" y1="345.3" x2="445.5" y2="422.3"/><line x1="469.45" y1="345.3" x2="469.45" y2="422.3"/><line x1="493.4" y1="345.3" x2="493.4" y2="422.3"/><line x1="517.35" y1="345.3" x2="517.35" y2="422.3"/><line x1="541.3" y1="345.3" x2="541.3" y2="422.3"/><line x1="397.6" y1="345.3" x2="541.3" y2="345.3"/><line x1="397.6" y1="358.13" x2="541.3" y2="358.13"/><line x1="397.6" y1="370.97" x2="541.3" y2="370.97"/><line x1="397.6" y1="383.8" x2="541.3" y2="383.8"/><line x1="397.6" y1="409.47" x2="541.3" y2="409.47"/><line x1="397.6" y1="422.3" x2="541.3" y2="422.3"/></g>
<line x1="397.6" y1="397.7" x2="541.3" y2="397.7" stroke="#ffc000" stroke-width="1.4" stroke-opacity="0.85" stroke-dasharray="1.2 1.15"/>
<g font-size="7.5" fill="#262626" stroke="#262626" stroke-width="0.2"><text x="391.3" y="347.6" text-anchor="end">10</text><text x="391.3" y="360.43" text-anchor="end">8</text><text x="391.3" y="373.27" text-anchor="end">6</text><text x="391.3" y="386.1" text-anchor="end">4</text><text x="391.3" y="398.93" text-anchor="end">2</text><text x="391.3" y="411.77" text-anchor="end">0</text><text x="391.3" y="424.6" text-anchor="end">-2</text><text x="397.6" y="433.8" text-anchor="middle">0</text><text x="421.55" y="433.8" text-anchor="middle">100</text><text x="445.5" y="433.8" text-anchor="middle">200</text><text x="469.45" y="433.8" text-anchor="middle">300</text><text x="493.4" y="433.8" text-anchor="middle">400</text><text x="517.35" y="433.8" text-anchor="middle">500</text><text x="541.3" y="433.8" text-anchor="middle">600</text></g>
<text x="469.45" y="446.6" text-anchor="middle" font-size="8.0" fill="#262626" stroke="#262626" stroke-width="0.15">UVR dose (J m<tspan font-size="5" dy="-3">&#8722;2</tspan><tspan dy="3">)</tspan></text>
<text transform="translate(378.7,384.1) rotate(-90)" text-anchor="middle" font-size="8.4" fill="#262626" stroke="#262626" stroke-width="0.22">&#916;a<tspan font-size="6.2" dx="0.7" dy="-1.8">*</tspan></text>
<rect x="407.9" y="348.1" width="57.8" height="16.6" fill="#fff"/>
<text x="410.1" y="360.1" font-size="11.5" fill="#1a1a1a" stroke="#1a1a1a" stroke-width="0.2">Subject 12</text>
<path d="M448.4,403.5 C449.65,403.5 453.18,403.08 455.9,403.5 C458.62,403.92 461.53,405.9 464.7,406 C467.87,406.1 471.27,406.42 474.9,404.1 C478.53,401.78 482.33,396.63 486.5,392.1 C490.67,387.57 497.67,379.43 499.9,376.9" fill="none" stroke="#000" stroke-width="1.05"/>
<g fill="#000"><circle cx="448.4" cy="403.5" r="1.85"/><circle cx="455.9" cy="403.5" r="1.85"/><circle cx="464.7" cy="406" r="1.85"/><circle cx="474.9" cy="404.1" r="1.85"/><circle cx="486.5" cy="392.1" r="1.85"/><circle cx="499.9" cy="376.9" r="1.85"/></g>
<line x1="481.7" y1="389.3" x2="481.7" y2="419.1" stroke="#0070c0" stroke-width="1.4" stroke-opacity="0.42"/><path d="M479.1,418.6 L484.3,418.6 L481.7,423.4 Z" fill="#0070c0"/>
<line x1="474.9" y1="389.8" x2="474.9" y2="419.1" stroke="#ff0000" stroke-width="1.4" stroke-opacity="0.42"/><path d="M472.3,418.6 L477.5,418.6 L474.9,423.4 Z" fill="#ff0000"/>
<g stroke="#d9d9d9" stroke-width="0.9"><line x1="27.4" y1="458.3" x2="27.4" y2="535.6"/><line x1="51.3" y1="458.3" x2="51.3" y2="535.6"/><line x1="75.2" y1="458.3" x2="75.2" y2="535.6"/><line x1="99.1" y1="458.3" x2="99.1" y2="535.6"/><line x1="123" y1="458.3" x2="123" y2="535.6"/><line x1="146.9" y1="458.3" x2="146.9" y2="535.6"/><line x1="170.8" y1="458.3" x2="170.8" y2="535.6"/><line x1="27.4" y1="458.3" x2="170.8" y2="458.3"/><line x1="27.4" y1="471.18" x2="170.8" y2="471.18"/><line x1="27.4" y1="484.07" x2="170.8" y2="484.07"/><line x1="27.4" y1="496.95" x2="170.8" y2="496.95"/><line x1="27.4" y1="522.72" x2="170.8" y2="522.72"/><line x1="27.4" y1="535.6" x2="170.8" y2="535.6"/></g>
<line x1="27.4" y1="510.9" x2="170.8" y2="510.9" stroke="#ffc000" stroke-width="1.4" stroke-opacity="0.85" stroke-dasharray="1.2 1.15"/>
<g font-size="7.5" fill="#262626" stroke="#262626" stroke-width="0.2"><text x="21.1" y="460.6" text-anchor="end">10</text><text x="21.1" y="473.48" text-anchor="end">8</text><text x="21.1" y="486.37" text-anchor="end">6</text><text x="21.1" y="499.25" text-anchor="end">4</text><text x="21.1" y="512.13" text-anchor="end">2</text><text x="21.1" y="525.02" text-anchor="end">0</text><text x="21.1" y="537.9" text-anchor="end">-2</text><text x="27.4" y="547.1" text-anchor="middle">0</text><text x="51.3" y="547.1" text-anchor="middle">100</text><text x="75.2" y="547.1" text-anchor="middle">200</text><text x="99.1" y="547.1" text-anchor="middle">300</text><text x="123" y="547.1" text-anchor="middle">400</text><text x="146.9" y="547.1" text-anchor="middle">500</text><text x="170.8" y="547.1" text-anchor="middle">600</text></g>
<text x="99.1" y="559.9" text-anchor="middle" font-size="8.0" fill="#262626" stroke="#262626" stroke-width="0.15">UVR dose (J m<tspan font-size="5" dy="-3">&#8722;2</tspan><tspan dy="3">)</tspan></text>
<text transform="translate(8.5,497.25) rotate(-90)" text-anchor="middle" font-size="8.4" fill="#262626" stroke="#262626" stroke-width="0.22">&#916;a<tspan font-size="6.2" dx="0.7" dy="-1.8">*</tspan></text>
<rect x="35" y="461.5" width="57.8" height="16.6" fill="#fff"/>
<text x="37.2" y="473.5" font-size="11.5" fill="#1a1a1a" stroke="#1a1a1a" stroke-width="0.2">Subject 13</text>
<g stroke="#505050" stroke-width="0.8"><line x1="121.4" y1="499.5" x2="121.4" y2="503.4"/><line x1="119.6" y1="499.5" x2="123.2" y2="499.5"/><line x1="119.6" y1="503.4" x2="123.2" y2="503.4"/></g>
<path d="M73.9,519.4 C75.07,519.67 78.45,520.15 80.9,521 C83.35,521.85 85.7,524.62 88.6,524.5 C91.5,524.38 94.88,522.23 98.3,520.3 C101.72,518.37 105.25,516.07 109.1,512.9 C112.95,509.73 119.35,503.23 121.4,501.3" fill="none" stroke="#000" stroke-width="1.05"/>
<g fill="#000"><circle cx="73.9" cy="519.4" r="1.85"/><circle cx="80.9" cy="521" r="1.85"/><circle cx="88.6" cy="524.5" r="1.85"/><circle cx="98.3" cy="520.3" r="1.85"/><circle cx="109.1" cy="512.9" r="1.85"/><circle cx="121.4" cy="501.3" r="1.85"/></g>
<line x1="111.5" y1="502.1" x2="111.5" y2="532.4" stroke="#0070c0" stroke-width="1.4" stroke-opacity="0.42"/><path d="M108.9,531.9 L114.1,531.9 L111.5,536.7 Z" fill="#0070c0"/>
<line x1="121.4" y1="502.1" x2="121.4" y2="532.4" stroke="#ff0000" stroke-width="1.4" stroke-opacity="0.42"/><path d="M118.8,531.9 L124,531.9 L121.4,536.7 Z" fill="#ff0000"/>
<g stroke="#d9d9d9" stroke-width="0.9"><line x1="212.2" y1="457.7" x2="212.2" y2="535.8"/><line x1="236.15" y1="457.7" x2="236.15" y2="535.8"/><line x1="260.1" y1="457.7" x2="260.1" y2="535.8"/><line x1="284.05" y1="457.7" x2="284.05" y2="535.8"/><line x1="308" y1="457.7" x2="308" y2="535.8"/><line x1="331.95" y1="457.7" x2="331.95" y2="535.8"/><line x1="355.9" y1="457.7" x2="355.9" y2="535.8"/><line x1="212.2" y1="457.7" x2="355.9" y2="457.7"/><line x1="212.2" y1="470.72" x2="355.9" y2="470.72"/><line x1="212.2" y1="483.73" x2="355.9" y2="483.73"/><line x1="212.2" y1="496.75" x2="355.9" y2="496.75"/><line x1="212.2" y1="522.78" x2="355.9" y2="522.78"/><line x1="212.2" y1="535.8" x2="355.9" y2="535.8"/></g>
<line x1="212.2" y1="510.4" x2="355.9" y2="510.4" stroke="#ffc000" stroke-width="1.4" stroke-opacity="0.85" stroke-dasharray="1.2 1.15"/>
<g font-size="7.5" fill="#262626" stroke="#262626" stroke-width="0.2"><text x="205.9" y="460" text-anchor="end">10</text><text x="205.9" y="473.02" text-anchor="end">8</text><text x="205.9" y="486.03" text-anchor="end">6</text><text x="205.9" y="499.05" text-anchor="end">4</text><text x="205.9" y="512.07" text-anchor="end">2</text><text x="205.9" y="525.08" text-anchor="end">0</text><text x="205.9" y="538.1" text-anchor="end">-2</text><text x="212.2" y="547.3" text-anchor="middle">0</text><text x="236.15" y="547.3" text-anchor="middle">100</text><text x="260.1" y="547.3" text-anchor="middle">200</text><text x="284.05" y="547.3" text-anchor="middle">300</text><text x="308" y="547.3" text-anchor="middle">400</text><text x="331.95" y="547.3" text-anchor="middle">500</text><text x="355.9" y="547.3" text-anchor="middle">600</text></g>
<text x="284.05" y="560.1" text-anchor="middle" font-size="8.0" fill="#262626" stroke="#262626" stroke-width="0.15">UVR dose (J m<tspan font-size="5" dy="-3">&#8722;2</tspan><tspan dy="3">)</tspan></text>
<text transform="translate(193.3,497.05) rotate(-90)" text-anchor="middle" font-size="8.4" fill="#262626" stroke="#262626" stroke-width="0.22">&#916;a<tspan font-size="6.2" dx="0.7" dy="-1.8">*</tspan></text>
<rect x="219.1" y="462.8" width="57.8" height="16.6" fill="#fff"/>
<text x="221.3" y="474.8" font-size="11.5" fill="#1a1a1a" stroke="#1a1a1a" stroke-width="0.2">Subject 14</text>
<path d="M256.1,519.1 C257.27,518.27 260.7,515.72 263.1,514.1 C265.5,512.48 267.67,509.4 270.5,509.4 C273.33,509.4 276.95,514.17 280.1,514.1 C283.25,514.03 285.8,511.08 289.4,509 C293,506.92 299.65,502.83 301.7,501.6" fill="none" stroke="#000" stroke-width="1.05"/>
<g fill="#000"><circle cx="256.1" cy="519.1" r="1.85"/><circle cx="263.1" cy="514.1" r="1.85"/><circle cx="270.5" cy="509.4" r="1.85"/><circle cx="280.1" cy="514.1" r="1.85"/><circle cx="289.4" cy="509" r="1.85"/><circle cx="301.7" cy="501.6" r="1.85"/></g>
<line x1="269.4" y1="501.3" x2="269.4" y2="532.6" stroke="#0070c0" stroke-width="1.4" stroke-opacity="0.42"/><path d="M266.8,532.1 L272,532.1 L269.4,536.9 Z" fill="#0070c0"/>
<line x1="289.4" y1="502.1" x2="289.4" y2="532.6" stroke="#ff0000" stroke-width="1.4" stroke-opacity="0.42"/><path d="M286.8,532.1 L292,532.1 L289.4,536.9 Z" fill="#ff0000"/>
<rect x="399.3" y="462" width="131.6" height="96.5" fill="none" stroke="#404040" stroke-width="1"/>
<line x1="415.5" y1="469.7" x2="415.5" y2="499.6" stroke="#ff0000" stroke-width="1.4" stroke-opacity="0.42"/><path d="M412.9,499.1 L418.1,499.1 L415.5,503.9 Z" fill="#ff0000"/>
<line x1="415.5" y1="513.9" x2="415.5" y2="544.1" stroke="#0070c0" stroke-width="1.4" stroke-opacity="0.42"/><path d="M412.9,543.6 L418.1,543.6 L415.5,548.4 Z" fill="#0070c0"/>
<text x="421.3" y="494.3" font-size="11.4" fill="#1a1a1a" stroke="#1a1a1a" stroke-width="0.2">Visual MED</text>
<text x="421.3" y="535.9" font-size="11.4" fill="#1a1a1a" stroke="#1a1a1a" stroke-width="0.2">Instrumental MED</text>
</svg>
</body></html>
